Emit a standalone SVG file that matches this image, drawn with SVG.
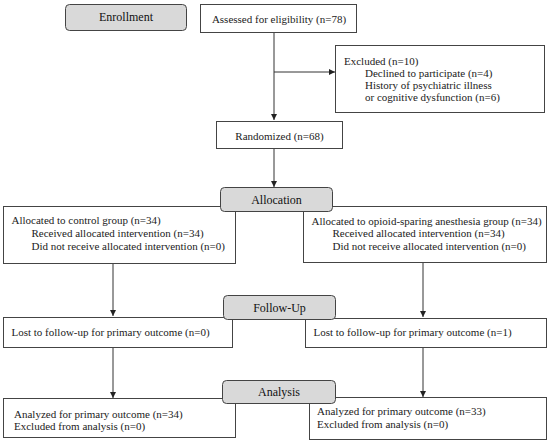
<svg xmlns="http://www.w3.org/2000/svg" width="550" height="442" viewBox="0 0 550 442">
<defs>
<style>
.box{fill:#fff;stroke:#444;stroke-width:1}
.hdr{fill:#d9d9d9;stroke:#444;stroke-width:1}
.t{font-family:"Liberation Serif","Times New Roman",serif;font-size:11px;fill:#222}
.h{font-family:"Liberation Serif","Times New Roman",serif;font-size:12px;fill:#111;text-anchor:middle}
.c{text-anchor:middle}
.ln{stroke:#333;stroke-width:1;fill:none}
</style>
<marker id="arr" markerUnits="userSpaceOnUse" markerWidth="7" markerHeight="7" refX="6" refY="3" orient="auto">
<path d="M0,0 L6,3 L0,6 Z" fill="#222"/>
</marker>
</defs>
<rect width="550" height="442" fill="#fff"/>
<g id="connectors">
<line class="ln" x1="274" y1="32" x2="274" y2="120" marker-end="url(#arr)"/>
<line class="ln" x1="274" y1="72" x2="335" y2="72" marker-end="url(#arr)"/>
<line class="ln" x1="274" y1="148" x2="274" y2="187" marker-end="url(#arr)"/>
<line class="ln" x1="113" y1="263" x2="113" y2="316" marker-end="url(#arr)"/>
<line class="ln" x1="113" y1="347" x2="113" y2="398" marker-end="url(#arr)"/>
<line class="ln" x1="423" y1="262" x2="423" y2="317" marker-end="url(#arr)"/>
<line class="ln" x1="423" y1="347" x2="423" y2="397" marker-end="url(#arr)"/>
</g>
<g id="assessed">
<rect class="box" x="200.5" y="4.5" width="156" height="28"/>
<text class="t c" x="279" y="23">Assessed for eligibility (n=78)</text>
</g>
<g id="excluded">
<rect class="box" x="335.5" y="45.5" width="209" height="67"/>
<text class="t" x="344" y="65">Excluded (n=10)</text>
<text class="t" x="365" y="77">Declined to participate (n=4)</text>
<text class="t" x="365" y="89">History of psychiatric illness</text>
<text class="t" x="365" y="101">or cognitive dysfunction (n=6)</text>
</g>
<g id="randomized">
<rect class="box" x="216.5" y="121.5" width="126" height="27"/>
<text class="t c" x="279.5" y="140">Randomized (n=68)</text>
</g>
<g id="alloc-control">
<rect class="box" x="3.5" y="206.5" width="232" height="57"/>
<text class="t" x="11.5" y="224">Allocated to control group (n=34)</text>
<text class="t" x="31.5" y="237">Received allocated intervention (n=34)</text>
<text class="t" x="31.5" y="250">Did not receive allocated intervention (n=0)</text>
</g>
<g id="alloc-osa">
<rect class="box" x="303.5" y="206.5" width="243" height="56"/>
<text class="t" x="311.5" y="225">Allocated to opioid-sparing anesthesia group (n=34)</text>
<text class="t" x="332.5" y="237">Received allocated intervention (n=34)</text>
<text class="t" x="332.5" y="250">Did not receive allocated intervention (n=0)</text>
</g>
<g id="followup-control">
<rect class="box" x="3.5" y="317.5" width="229" height="30"/>
<text class="t" x="11.5" y="336">Lost to follow-up for primary outcome (n=0)</text>
</g>
<g id="followup-osa">
<rect class="box" x="305.5" y="318.5" width="241" height="29"/>
<text class="t" x="313.5" y="336">Lost to follow-up for primary outcome (n=1)</text>
</g>
<g id="analysis-control">
<rect class="box" x="3.5" y="398.5" width="232" height="39"/>
<text class="t" x="14" y="418">Analyzed for primary outcome (n=34)</text>
<text class="t" x="14" y="430">Excluded from analysis (n=0)</text>
</g>
<g id="analysis-osa">
<rect class="box" x="309.5" y="397.5" width="237" height="42"/>
<text class="t" x="317" y="415">Analyzed for primary outcome (n=33)</text>
<text class="t" x="317" y="428">Excluded from analysis (n=0)</text>
</g>
<g id="enrollment">
<rect class="hdr" x="65.5" y="4.5" width="121" height="26" rx="4"/>
<text class="h" x="126" y="21">Enrollment</text>
</g>
<g id="allocation">
<rect class="hdr" x="220.5" y="187.5" width="112" height="24" rx="4"/>
<text class="h" x="276.5" y="204">Allocation</text>
</g>
<g id="follow-up">
<rect class="hdr" x="223.5" y="295.5" width="112" height="24" rx="4"/>
<text class="h" x="279.5" y="312">Follow-Up</text>
</g>
<g id="analysis">
<rect class="hdr" x="222.5" y="380.5" width="113" height="23" rx="4"/>
<text class="h" x="279" y="396">Analysis</text>
</g>
</svg>
